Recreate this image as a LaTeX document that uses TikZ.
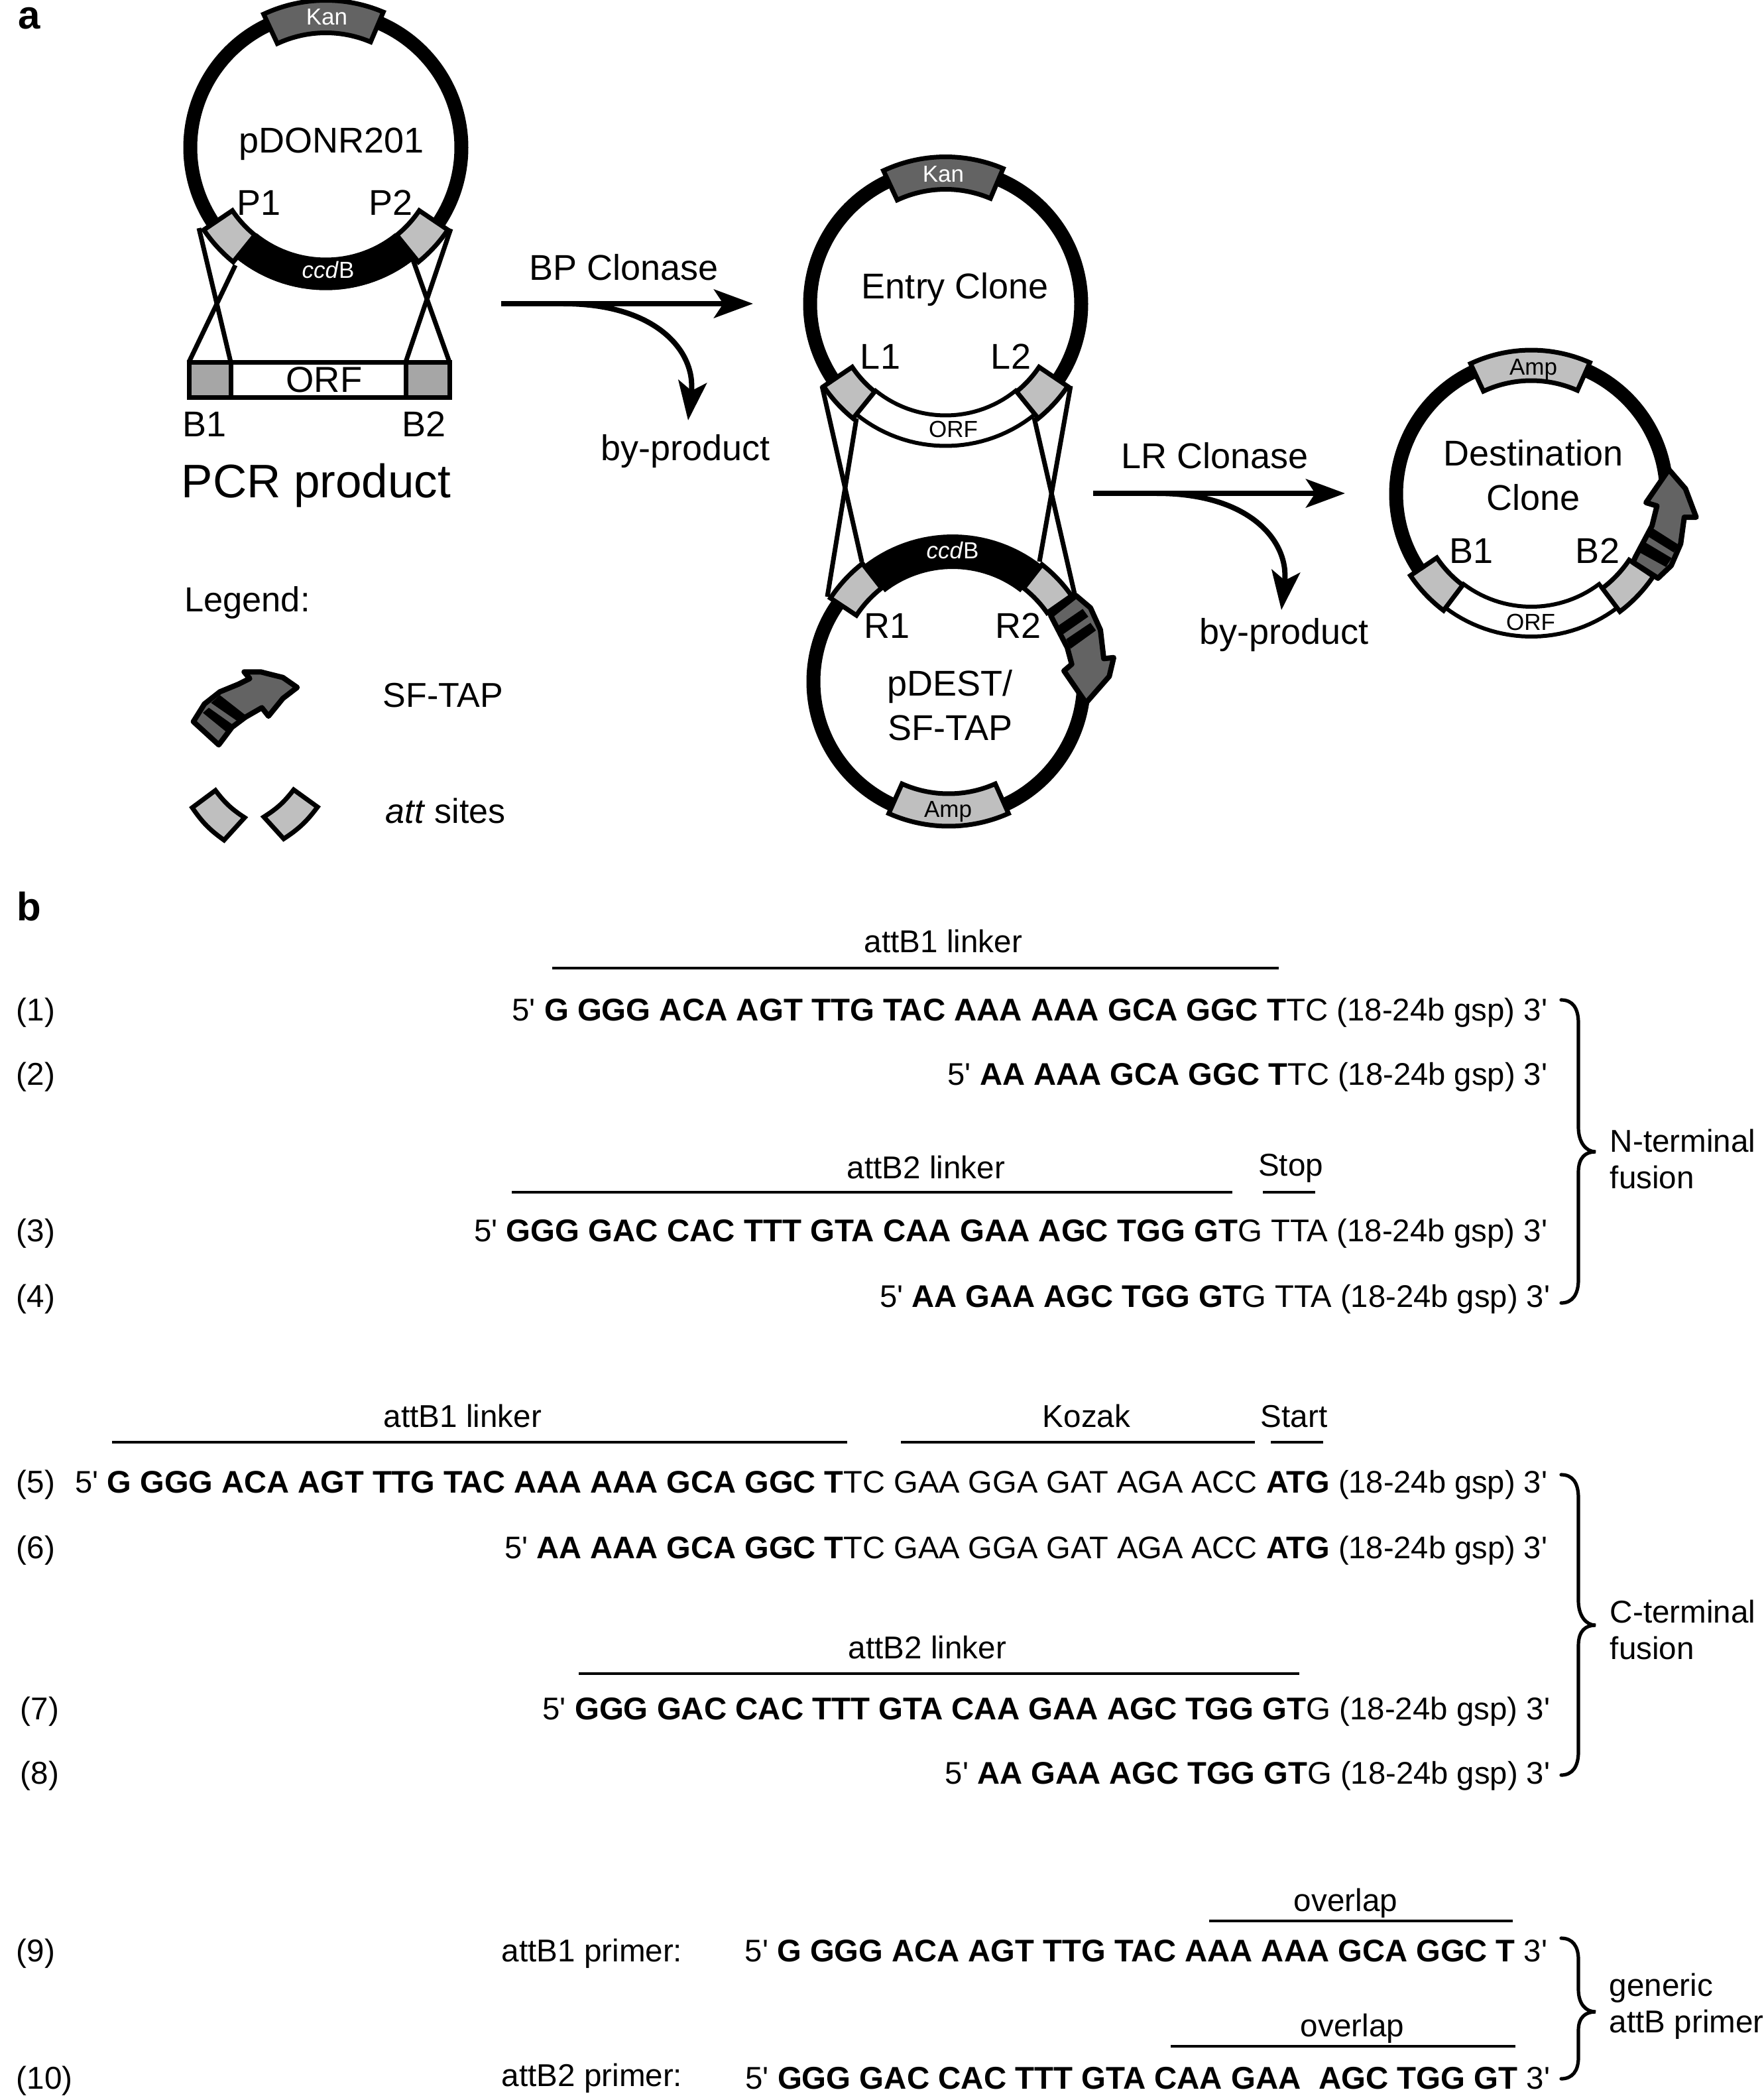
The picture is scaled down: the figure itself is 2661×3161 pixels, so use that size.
\documentclass[tikz,border=0pt]{standalone}
\usepackage{fontspec}
\setmainfont{Liberation Sans}[Ligatures=TeXOff]
\usetikzlibrary{arrows.meta}
\newcommand{\band}[7]{\path[#7] plot[domain=#5:#6,samples=30] ({#1+#4*cos(\x)},{#2-#4*sin(\x)}) -- plot[domain=#6:#5,samples=30] ({#1+#3*cos(\x)},{#2-#3*sin(\x)}) -- cycle;}
\definecolor{lg}{HTML}{BFBFBF}
\definecolor{mg}{HTML}{A6A6A6}
\definecolor{dg}{HTML}{636363}
\tikzset{
 ring/.style={draw=black,line width=5.25pt},
 att/.style={draw=black,fill=lg,line width=1.75pt,miter limit=10},
 dark/.style={draw=black,fill=dg,line width=1.75pt},
 orfband/.style={draw=black,fill=white,line width=1.5pt},
 blackband/.style={fill=black},
 tap/.style={draw=black,fill=dg,line width=2pt,line join=round},
 stripe/.style={fill=black},
 cross/.style={draw=black,line width=1.75pt},
 boxp/.style={draw=black,line width=1.75pt},
 rxn/.style={draw=black,line width=2pt,-{Stealth[length=14.75pt,width=10.75pt,inset=3.5pt]}},
 over/.style={draw=black,line width=1pt},
 brace/.style={draw=black,line width=1.3pt,line cap=round},
 T/.style={inner sep=0pt,text=black},
 big/.style={T,font=\fontsize{13.5}{13.5}\selectfont,text height=9.7pt,text depth=0pt},
 huge/.style={T,font=\fontsize{17.75}{17.75}\selectfont,text height=12.8pt,text depth=0pt},
 tiny/.style={T,font=\fontsize{8.75}{8.75}\selectfont,text height=6.3pt,text depth=0pt},
 row/.style={T,font=\fontsize{11.9}{11.9}\selectfont,text height=8.6pt,text depth=0pt},
 seq/.style={T,font=\fontsize{11.8}{11.8}\selectfont,text height=8.5pt,text depth=0pt,anchor=east},
 seqb/.style={seq,font=\fontsize{11.77}{11.77}\selectfont},
 seqc/.style={seq,font=\fontsize{11.86}{11.86}\selectfont},
 side/.style={T,font=\fontsize{11.9}{13.75}\selectfont,align=left,anchor=west},
 head/.style={T,font=\fontsize{15}{15}\selectfont\bfseries,text height=10.8pt,text depth=0pt},
}
\begin{document}
\begin{tikzpicture}[x=0.25pt,y=-0.25pt]
\useasboundingbox (0,0) rectangle (2661,3161);
\fill[white] (0,0) rectangle (2661,3161);
\node[head] (lblA) at (44,22) {a};
\node[head] (lblB) at (44,1367) {b};
% pDONR201
\draw[ring] plot[domain=0:360,samples=120,smooth cycle] ({491.5+204.5*cos(\x)},{222.5-204.5*sin(\x)});
\band{491.5}{222.5}{166}{215}{231}{309}{blackband}
\band{491.5}{222.5}{173}{222}{67}{115}{dark}
\band{491.5}{222.5}{170}{222}{214}{231}{att}
\band{491.5}{222.5}{170}{222}{309}{326}{att}
\coordinate (p1o) at (300,344); \coordinate (p1i) at (355,400);
\coordinate (p2o) at (680,345); \coordinate (p2i) at (623,392);
\coordinate (b1i) at (348,546); \coordinate (b1o) at (285,546);
\coordinate (b2i) at (612,546); \coordinate (b2o) at (678,546);
\coordinate (b1s) at (348,599); \coordinate (b2s) at (612,599);
\coordinate (bos) at (678,599); \coordinate (b1b) at (285,599);
\draw[cross] (p1o) -- (b1i);
\draw[cross] (p1i) -- (b1o);
\draw[cross] (p2o) -- (b2i);
\draw[cross] (p2i) -- (b2o);
\path[boxp,fill=white] (b1o) rectangle (bos);
\path[boxp,fill=mg] (b1o) rectangle (b1s);
\path[boxp,fill=mg] (b2i) rectangle (bos);
\node[big,font=\fontsize{13.6}{13.6}\selectfont] (orf0) at (489,572) {ORF};
\node[tiny,text=white] (kan0) at (493,25) {Kan};
\node[tiny,text=white] (ccd0) at (495,407) {\textit{ccd}B};
\node[big] (name0) at (500,211) {pDONR201};
\node[big] (p1) at (391,305) {P1};
\node[big] (p2) at (590,305) {P2};
\node[big] (bt1) at (309,639) {B1};
\node[big] (bt2) at (640,639) {B2};
\node[huge] (pcr) at (477,725) {PCR product};
% BP arrow
\coordinate (bpS) at (756,458); \coordinate (bpE) at (1136,458);
\coordinate (bpB) at (850,458); \coordinate (bpD) at (1038,634);
\draw[rxn] (bpS) -- (bpE);
\draw[rxn] (bpB) .. controls (990,458) and (1050,530) .. (bpD);
\node[big] (bp) at (941,403) {BP Clonase};
\node[big] (bpp) at (1034,675) {by-product};
% Entry clone
\draw[ring] plot[domain=0:360,samples=120,smooth cycle] ({1426.5+204.5*cos(\x)},{458.5-204.5*sin(\x)});
\band{1426.5}{458.5}{168}{214}{231}{309}{orfband}
\band{1426.5}{458.5}{173}{222}{67}{115}{dark}
\band{1426.5}{458.5}{170}{222}{214}{231}{att}
\band{1426.5}{458.5}{170}{222}{309}{326}{att}
\node[tiny,text=white] (kan1) at (1423,262) {Kan};
\node[tiny] (orf1) at (1438,647) {ORF};
\node[big] (name1) at (1441,431) {Entry Clone};
\node[big] (l1) at (1328,537) {L1};
\node[big] (l2) at (1525,537) {L2};
% pDEST
\draw[ring] plot[domain=0:360,samples=120,smooth cycle] ({1431+204*cos(\x)},{1028-204*sin(\x)});
\band{1437}{1024}{166}{218}{52}{128}{blackband}
\band{1431}{1024}{173}{222}{246}{294}{att}
\band{1437}{1024}{174}{221}{128}{146.5}{att}
\band{1437}{1024}{174}{219}{35}{52}{att}
\draw[tap] (1623.3,898.3) -- (1645,916.7) -- (1660,950) -- (1665,993.3) -- (1680,991.7) -- (1673.3,1020) -- (1638.3,1060) -- (1626.7,1043.3) -- (1605,1011.7) -- (1616.7,1001.7) -- (1610,976.7) -- (1585,928.3) -- cycle;
\fill[stripe] (1596.7,943.3) -- (1633.3,918.3) -- (1641.7,930) -- (1603.3,956.7) -- cycle;
\fill[stripe] (1608.3,964) -- (1645,939.3) -- (1653.3,950.7) -- (1615,978.3) -- cycle;
\node[tiny,text=white] (ccd2) at (1437,830) {\textit{ccd}B};
\node[tiny] (amp2) at (1430,1220) {Amp};
\node[big] (name2a) at (1433,1030) {pDEST/};
\node[big] (name2b) at (1433,1097) {SF-TAP};
\node[big] (r1) at (1338,943) {R1};
\node[big] (r2) at (1536,943) {R2};
\coordinate (l1o) at (1240,582); \coordinate (l1i) at (1292,631);
\coordinate (l2o) at (1615,582); \coordinate (l2i) at (1560,630);
\coordinate (r1o) at (1248,900); \coordinate (r1i) at (1300,847);
\coordinate (r2o) at (1622,900); \coordinate (r2i) at (1568,847);
\draw[cross] (l1o) -- (r1i);
\draw[cross] (l1i) -- (r1o);
\draw[cross] (l2i) -- (r2o);
\draw[cross] (l2o) -- (r2i);
% LR arrow
\coordinate (lrS) at (1649,744); \coordinate (lrE) at (2029,744);
\coordinate (lrB) at (1745,744); \coordinate (lrD) at (1933,920);
\draw[rxn] (lrS) -- (lrE);
\draw[rxn] (lrB) .. controls (1885,744) and (1945,816) .. (lrD);
\node[big] (lr) at (1833,687) {LR Clonase};
\node[big] (lrp) at (1937,952) {by-product};
% Destination
\draw[ring] plot[domain=0:360,samples=120,smooth cycle] ({2310+204*cos(\x)},{745-204*sin(\x)});
\band{2310}{745}{170}{215}{233}{307}{orfband}
\band{2310}{745}{171}{217}{66}{115}{att}
\band{2310}{745}{172}{220}{214}{233}{att}
\band{2310}{745}{178}{222}{307}{326}{att}
\draw[tap] (2501,872) -- (2463.5,848) -- (2467,840) -- (2492,793) -- (2499.5,763) -- (2483,758) -- (2517.4,708) -- (2542.5,737) -- (2558.7,780) -- (2540.7,780) -- (2535.3,820) -- (2521,853) -- cycle;
\fill[stripe] (2490.5,795) -- (2532.5,821.7) -- (2524.6,833) -- (2484.4,808) -- cycle;
\fill[stripe] (2479.7,816.7) -- (2521.7,841.7) -- (2513,855) -- (2470.7,831.7) -- cycle;
\node[tiny] (amp3) at (2313,553) {Amp};
\node[tiny] (orf3) at (2309,938) {ORF};
\node[big] (name3a) at (2313,683) {Destination};
\node[big] (name3b) at (2313,750) {Clone};
\node[big] (b31) at (2219.5,830) {B1};
\node[big] (b32) at (2410,830) {B2};
% Legend
\node[big,font=\fontsize{13.1}{13.1}\selectfont] (leg) at (373,903) {Legend:};
\draw[tap] (291.7,1088.3) -- (308.3,1061.7) -- (331.7,1043.3) -- (360,1031.7) -- (376.7,1023.3) -- (368.3,1013.3) -- (393.3,1013.3) -- (426.7,1021.7) -- (448.3,1036.7) -- (426.7,1053.3) -- (405,1080) -- (395,1067.3) -- (370,1081.7) -- (350,1096.7) -- (330,1123.3) -- cycle;
\fill[stripe] (331.7,1048.3) -- (370,1078.3) -- (359.3,1088.3) -- (318.3,1060) -- cycle;
\fill[stripe] (315,1067.3) -- (354,1095) -- (341.7,1104) -- (306,1075) -- cycle;
\draw[att] (290,1218) -- (325,1192) to[bend right=10] (369,1233) -- (338,1267) to[bend left=10] (290,1218) -- cycle;
\draw[att] (398,1232) to[bend right=10] (443,1191) -- (479,1217) to[bend left=10] (428,1265) -- cycle;
\node[big,font=\fontsize{13}{13}\selectfont,anchor=west] (legtap) at (577,1047) {SF-TAP};
\node[big,font=\fontsize{13}{13}\selectfont,anchor=west] (legatt) at (581,1222) {\textit{att} sites};
% Section b
\node[row] (h1) at (1423,1419) {attB1 linker};
\coordinate (h1a) at (833,1460); \coordinate (h1b) at (1929,1460); \draw[over] (h1a) -- (h1b);
\node[row,anchor=west] (n1) at (24,1522) {(1)};
\node[seqc] (s1) at (2335,1522) {5' \textbf{G GGG ACA AGT TTG TAC AAA AAA GCA GGC T}TC (18-24b gsp) 3'};
\node[row,anchor=west] (n2) at (24,1619) {(2)};
\node[seq] (s2) at (2335,1619) {5' \textbf{AA AAA GCA GGC T}TC (18-24b gsp) 3'};
\node[row] (h2) at (1397,1760) {attB2 linker};
\coordinate (h2a) at (772,1798); \coordinate (h2b) at (1859,1798); \draw[over] (h2a) -- (h2b);
\node[row] (h3) at (1947,1756) {Stop};
\coordinate (h3a) at (1905,1798); \coordinate (h3b) at (1984,1798); \draw[over] (h3a) -- (h3b);
\node[row,anchor=west] (n3) at (24,1855) {(3)};
\node[seqc] (s3) at (2335,1855) {5' \textbf{GGG GAC CAC TTT GTA CAA GAA AGC TGG GT}G TTA (18-24b gsp) 3'};
\node[row,anchor=west] (n4) at (24,1954) {(4)};
\node[seq] (s4) at (2339,1954) {5' \textbf{AA GAA AGC TGG GT}G TTA (18-24b gsp) 3'};
\node[row] (h4) at (698,2135) {attB1 linker};
\coordinate (h4a) at (169,2175); \coordinate (h4b) at (1278,2175); \draw[over] (h4a) -- (h4b);
\node[row] (h5) at (1639,2135) {Kozak};
\coordinate (h5a) at (1359,2175); \coordinate (h5b) at (1893,2175); \draw[over] (h5a) -- (h5b);
\node[row] (h6) at (1952,2135) {Start};
\coordinate (h6a) at (1917,2175); \coordinate (h6b) at (1996,2175); \draw[over] (h6a) -- (h6b);
\node[row,anchor=west] (n5) at (24,2234) {(5)};
\node[seqb] (s5) at (2335,2234) {5' \textbf{G GGG ACA AGT TTG TAC AAA AAA GCA GGC T}TC GAA GGA GAT AGA ACC \textbf{ATG} (18-24b gsp) 3'};
\node[row,anchor=west] (n6) at (24,2333) {(6)};
\node[seqb] (s6) at (2335,2333) {5' \textbf{AA AAA GCA GGC T}TC GAA GGA GAT AGA ACC \textbf{ATG} (18-24b gsp) 3'};
\node[row] (h7) at (1399,2484) {attB2 linker};
\coordinate (h7a) at (873,2524); \coordinate (h7b) at (1960,2524); \draw[over] (h7a) -- (h7b);
\node[row,anchor=west] (n7) at (30,2576) {(7)};
\node[seqc] (s7) at (2339,2576) {5' \textbf{GGG GAC CAC TTT GTA CAA GAA AGC TGG GT}G (18-24b gsp) 3'};
\node[row,anchor=west] (n8) at (30,2673) {(8)};
\node[seq] (s8) at (2339,2673) {5' \textbf{AA GAA AGC TGG GT}G (18-24b gsp) 3'};
\node[row] (h8) at (2030,2865) {overlap};
\coordinate (h8a) at (1824,2897); \coordinate (h8b) at (2282,2897); \draw[over] (h8a) -- (h8b);
\node[row,anchor=west] (n9) at (24,2941) {(9)};
\node[row,anchor=west] (pr1) at (756,2941) {attB1 primer:};
\node[seq] (s9) at (2335,2941) {5' \textbf{G GGG ACA AGT TTG TAC AAA AAA GCA GGC T} 3'};
\node[row] (h9) at (2040,3054) {overlap};
\coordinate (h9a) at (1766,3086); \coordinate (h9b) at (2286,3086); \draw[over] (h9a) -- (h9b);
\node[row,anchor=west] (n10) at (24,3133) {(10)};
\node[row,anchor=west] (pr2) at (756,3129) {attB2 primer:};
\node[seqc] (s10) at (2339,3133) {5' \textbf{GGG GAC CAC TTT GTA CAA GAA\ \ AGC TGG GT} 3'};
% Braces
\draw[brace] (2355,1508) .. controls (2372,1508) and (2381,1520) .. (2381,1543) -- (2381,1700) .. controls (2381,1722) and (2392,1737) .. (2407,1737) .. controls (2392,1737) and (2381,1745) .. (2381,1768) -- (2381,1930) .. controls (2381,1952) and (2372,1965) .. (2355,1965);
\draw[brace] (2355,2224) .. controls (2372,2224) and (2381,2236) .. (2381,2259) -- (2381,2414) .. controls (2381,2436) and (2392,2451) .. (2407,2451) .. controls (2392,2451) and (2381,2459) .. (2381,2482) -- (2381,2642) .. controls (2381,2664) and (2372,2677) .. (2355,2677);
\draw[brace] (2355,2923) .. controls (2372,2923) and (2381,2935) .. (2381,2955) -- (2381,3000) .. controls (2381,3022) and (2392,3034) .. (2407,3034) .. controls (2392,3034) and (2381,3042) .. (2381,3062) -- (2381,3103) .. controls (2381,3123) and (2372,3135) .. (2355,3135);
\node[side] (nt) at (2428,1748) {N-terminal\\fusion};
\node[side] (ct) at (2428,2458) {C-terminal\\fusion};
\node[side] (gen) at (2427,3026) {generic\\attB primer};
\end{tikzpicture}
\end{document}
